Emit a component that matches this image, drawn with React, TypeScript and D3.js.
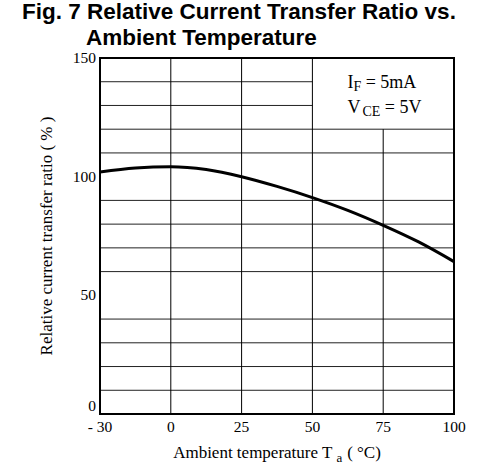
import React from 'react';
import * as d3 from 'd3';

// data
const xTicks = [-30, 0, 25, 50, 75, 100];
const yTicks = [0, 50, 100, 150];
const temps = [-30, -15, 0, 12.5, 25, 37.5, 50, 62.5, 75, 87.5, 100];
const ratio = [102, 103.7, 104.2, 103, 100, 95.9, 91.2, 85.8, 79.5, 72.5, 64.2];
const gridY = [10, 20, 30, 40, 60, 70, 80, 90, 110, 120, 130, 140];

const W = 488;
const H = 476;
const margin = { top: 58, right: 34, bottom: 62, left: 100 };
const serif = '"Liberation Serif", "Times New Roman", serif';

export default function App() {
  const iw = W - margin.left - margin.right;
  const ih = H - margin.top - margin.bottom;

  // ticks are evenly spaced even though -30..0 is a wider span
  const x = d3.scaleLinear()
    .domain(xTicks)
    .range(xTicks.map((_, i) => (i * iw) / (xTicks.length - 1)));
  const y = d3.scaleLinear().domain([0, 150]).range([ih, 0]);

  const line = d3.line<number>()
    .x((_, i) => x(temps[i]))
    .y(d => y(d))
    .curve(d3.curveMonotoneX);

  // legend box covers 50..100 / 120..150
  const boxX = x(50);
  const boxY = y(120);

  return (
    <svg width={W} height={H} style={{ position: 'absolute', left: 0, top: 0, background: '#fff' }}>
      <g fontFamily='"Liberation Sans", Arial, sans-serif' fontWeight="bold" fontSize={22.5} fill="#000">
        <text x={22} y={19}>Fig. 7 Relative Current Transfer Ratio vs.</text>
        <text x={86} y={45}>Ambient Temperature</text>
      </g>

      <g transform={`translate(${margin.left},${margin.top})`}>
        {gridY.map(v => (
          <line key={'h' + v}
            x1={0} x2={v > 120 ? boxX : iw}
            y1={y(v)} y2={y(v)}
            stroke="#222" strokeWidth={1} />
        ))}
        {xTicks.slice(1, -1).map(t => (
          <line key={'v' + t}
            x1={x(t)} x2={x(t)}
            y1={ih} y2={t > 50 ? boxY : 0}
            stroke="#000" strokeWidth={1} />
        ))}
        <rect x={0} y={0} width={iw} height={ih} fill="none" stroke="#000" strokeWidth={2} />

        <path d={line(ratio) ?? ''} fill="none" stroke="#000" strokeWidth={3} />

        <g fontFamily={serif} fontSize={15.5} fill="#000">
          {yTicks.map(t => (
            <text key={'yt' + t} x={-4} y={y(t) + (t === 0 ? -3 : 5)} textAnchor="end">{t}</text>
          ))}
          {xTicks.map(t => (
            <text key={'xt' + t} x={x(t)} y={ih + 18} textAnchor="middle">
              {t < 0 ? '- ' + Math.abs(t) : t}
            </text>
          ))}
          <text x={(iw) / 2} y={ih + 44} textAnchor="middle" fontSize={17}>
            Ambient temperature T<tspan dx={4} dy={4} fontSize={13}>a</tspan>
            <tspan dx={5} dy={-4}>( °C)</tspan>
          </text>
          <text transform={`translate(-48,${ih / 2}) rotate(-90)`} textAnchor="middle" fontSize={17}>
            Relative current transfer ratio ( % )
          </text>

          <g fontSize={18}>
            <text x={boxX + 35} y={30}>
              I<tspan fontSize={14} dy={3}>F</tspan><tspan dy={-3}> = 5mA</tspan>
            </text>
            <text x={boxX + 35} y={55}>
              V<tspan fontSize={14} dx={2} dy={3}>CE</tspan><tspan dy={-3}> = 5V</tspan>
            </text>
          </g>
        </g>
      </g>
    </svg>
  );
}
